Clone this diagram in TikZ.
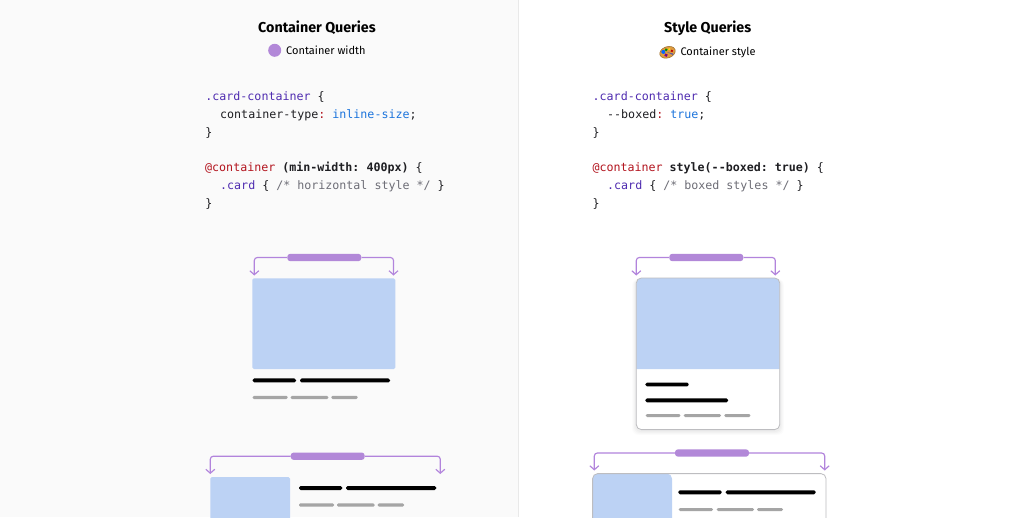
\documentclass[tikz,border=0pt]{standalone}
\usepackage{fontspec}
\setmainfont{Fira Sans}
\setmonofont{DejaVu Sans Mono}
\usetikzlibrary{arrows.meta}
\definecolor{panelgrey}{HTML}{FAFAFA}
\definecolor{panelline}{HTML}{E9E9E9}
\definecolor{lilacfill}{HTML}{B288D8}
\definecolor{lilacline}{HTML}{B284DC}
\definecolor{imageblue}{HTML}{BCD2F4}
\definecolor{cardedge}{HTML}{BDBDC0}
\definecolor{bargrey}{HTML}{A5A5A5}
\definecolor{codeclass}{HTML}{4F2CB0}
\definecolor{codered}{HTML}{B3151F}
\definecolor{codeblue}{HTML}{1C74DC}
\definecolor{codenote}{HTML}{6D6D76}
\definecolor{codeink}{HTML}{1E1E22}
\definecolor{paletteskin}{HTML}{DE9A3E}
\newcommand{\cl}[1]{\textcolor{codeclass}{#1}}
\newcommand{\rd}[1]{\textcolor{codered}{#1}}
\newcommand{\bl}[1]{\textcolor{codeblue}{#1}}
\newcommand{\nt}[1]{\textcolor{codenote}{#1}}
\tikzset{%
  titlenode/.style = {inner sep=0pt,font=\bfseries\fontsize{14.3}{16}\selectfont},
  legendnode/.style = {inner sep=0pt,anchor=west,font=\fontsize{11}{14}\selectfont},
  codeline/.style = {inner sep=0pt,anchor=base west,text=codeink,
        font=\ttfamily\fontsize{11.65}{14}\selectfont},
  widthpill/.style = {rectangle,fill=lilacfill,rounded corners=3pt,inner sep=0pt,
        minimum width=74pt,minimum height=7.4pt},
  spanarrow/.style = {-{Straight Barb[length=4pt,width=9pt]},draw=lilacline,
        line width=1.15pt,rounded corners=3pt},
  imagebox/.style = {fill=imageblue},
  blackbar/.style = {fill=black,rounded corners=1.6pt},
  greybar/.style = {fill=bargrey,rounded corners=1.3pt},
  cardbox/.style = {draw=cardedge,line width=0.8pt,rounded corners=5pt}
}
\begin{document}
\begin{tikzpicture}[x=1pt,y=-1pt]
    \useasboundingbox (0,0) rectangle (1035,517);
    \clip (0,0) rectangle (1035,517);
    \fill[white] (0,0) rectangle (1035,517);
    \fill[panelgrey] (0,0) rectangle (518,517);
    \fill[panelline] (518,0) rectangle (519,517);

    % headings
    \node[titlenode] (titleA) at (317,28) {Container Queries};
    \node[titlenode] (titleB) at (707.7,28) {Style Queries};
    \node[circle,fill=lilacfill,inner sep=0pt,minimum size=13pt] (dotA) at (274.7,50.3) {};
    \node[legendnode] (legendA) at (286,50.3) {Container width};
    \node[legendnode] (legendB) at (680.3,52) {Container style};

    % palette
    \begin{scope}[shift={(667.5,52.3)},rotate=20]
        \fill[fill=paletteskin,draw=paletteskin!70!black,line width=0.5pt] (0,0) ellipse (8pt and 5.6pt);
        \fill[blue!60!cyan] (-3.8,-1.8) circle (2pt);
        \fill[green!55!black] (-0.4,-2.8) circle (1.5pt);
        \fill[violet] (-2.4,2.2) circle (1.8pt);
        \fill[red!75!black] (4.6,0.2) circle (1.3pt);
        \fill[yellow!80!orange] (2.8,-2.4) circle (1.2pt);
        \fill[gray!70!blue] (-0.5,-0.5) -- (5,3.2) -- (4,4.2) -- cycle;
    \end{scope}

    % left code
    \node[codeline] (codeA1) at (205.2,100) {\cl{.card-container} \{};
    \node[codeline] (codeA2) at (220,118) {container-type\rd{:} \bl{inline-size};};
    \node[codeline] (codeA3) at (205.2,136) {\}};
    \node[codeline] (codeA4) at (205,171.5) {\rd{@container} \textbf{(min-width: 400px)} \{};
    \node[codeline] (codeA5) at (220,189) {\cl{.card} \{ \nt{/* horizontal style */} \}};
    \node[codeline] (codeA6) at (205.2,207) {\}};

    % right code
    \node[codeline] (codeB1) at (592.5,100) {\cl{.card-container} \{};
    \node[codeline] (codeB2) at (607,118) {--boxed\rd{:} \bl{true};};
    \node[codeline] (codeB3) at (592.5,136) {\}};
    \node[codeline] (codeB4) at (592.3,171.5) {\rd{@container} \textbf{style(--boxed: true)} \{};
    \node[codeline] (codeB5) at (607,189) {\cl{.card} \{ \nt{/* boxed styles */} \}};
    \node[codeline] (codeB6) at (592.5,207) {\}};

    % left, wide card
    \node[widthpill] (pillA) at (324.3,257.5) {};
    \coordinate (endA1) at (254.3,275.5);
    \coordinate (endA2) at (393.5,275.5);
    \draw[spanarrow] (pillA.west) -| (endA1);
    \draw[spanarrow] (pillA.east) -| (endA2);
    \fill[imagebox,rounded corners=1.5pt] (252.3,278.3) rectangle (395.3,369);
    \fill[blackbar] (252.7,378.4) rectangle (296,382.4);
    \fill[blackbar] (300,378.4) rectangle (390,382.4);
    \fill[greybar] (252.7,395.8) rectangle (287.7,399);
    \fill[greybar] (290.7,395.8) rectangle (328.3,399);
    \fill[greybar] (331.3,395.8) rectangle (357.7,399);

    % left, horizontal card
    \node[widthpill] (pillB) at (327.7,456.2) {};
    \coordinate (endB1) at (210.3,474);
    \coordinate (endB2) at (440.3,474);
    \draw[spanarrow] (pillB.west) -| (endB1);
    \draw[spanarrow] (pillB.east) -| (endB2);
    \fill[imagebox,rounded corners=1.5pt] (210.3,477) rectangle (290,530);
    \fill[blackbar] (299,486) rectangle (342.3,490);
    \fill[blackbar] (346,486) rectangle (436.3,490);
    \fill[greybar] (299,503.4) rectangle (334,506.6);
    \fill[greybar] (337,503.4) rectangle (374.7,506.6);
    \fill[greybar] (377.7,503.4) rectangle (404,506.6);

    % right, boxed card
    \node[widthpill] (pillC) at (706.3,257.5) {};
    \coordinate (endC1) at (636.3,275.5);
    \coordinate (endC2) at (775.3,275.5);
    \draw[spanarrow] (pillC.west) -| (endC1);
    \draw[spanarrow] (pillC.east) -| (endC2);
    \foreach \grow/\fade in {4/0.012,3/0.015,2/0.018,1/0.02}
        \fill[black,opacity=\fade,rounded corners=6pt] (636-\grow,279) rectangle (780+\grow,431+\grow);
    \fill[white,rounded corners=5pt] (636.3,278) rectangle (779.7,429.6);
    \fill[imagebox] (636.3,369) {[rounded corners=5pt] -- (636.3,278) -- (779.7,278)} -- (779.7,369) -- cycle;
    \draw[cardbox] (636.3,278) rectangle (779.7,429.6);
    \fill[blackbar] (645.3,382.6) rectangle (688.7,386.4);
    \fill[blackbar] (645.3,398.4) rectangle (728,402.4);
    \fill[greybar] (645.7,414) rectangle (680.3,417);
    \fill[greybar] (683.7,414) rectangle (721,417);
    \fill[greybar] (724.3,414) rectangle (750.3,417);

    % right, boxed horizontal card
    \node[widthpill] (pillD) at (712,453) {};
    \coordinate (endD1) at (594.3,470.5);
    \coordinate (endD2) at (824.7,470.5);
    \draw[spanarrow] (pillD.west) -| (endD1);
    \draw[spanarrow] (pillD.east) -| (endD2);
    \fill[white,rounded corners=5pt] (592.6,473.6) rectangle (826,540);
    \fill[imagebox] (672,540) -- (592.6,540) {[rounded corners=5pt] -- (592.6,473.6) -- (672,473.6)} -- cycle;
    \draw[cardbox] (592.6,473.6) rectangle (826,540);
    \fill[blackbar] (678.3,490.3) rectangle (721.7,494.3);
    \fill[blackbar] (725.7,490.3) rectangle (815.7,494.3);
    \fill[greybar] (678.7,508) rectangle (713,511);
    \fill[greybar] (716.7,508) rectangle (754,511);
    \fill[greybar] (757,508) rectangle (783,511);
\end{tikzpicture}
\end{document}
